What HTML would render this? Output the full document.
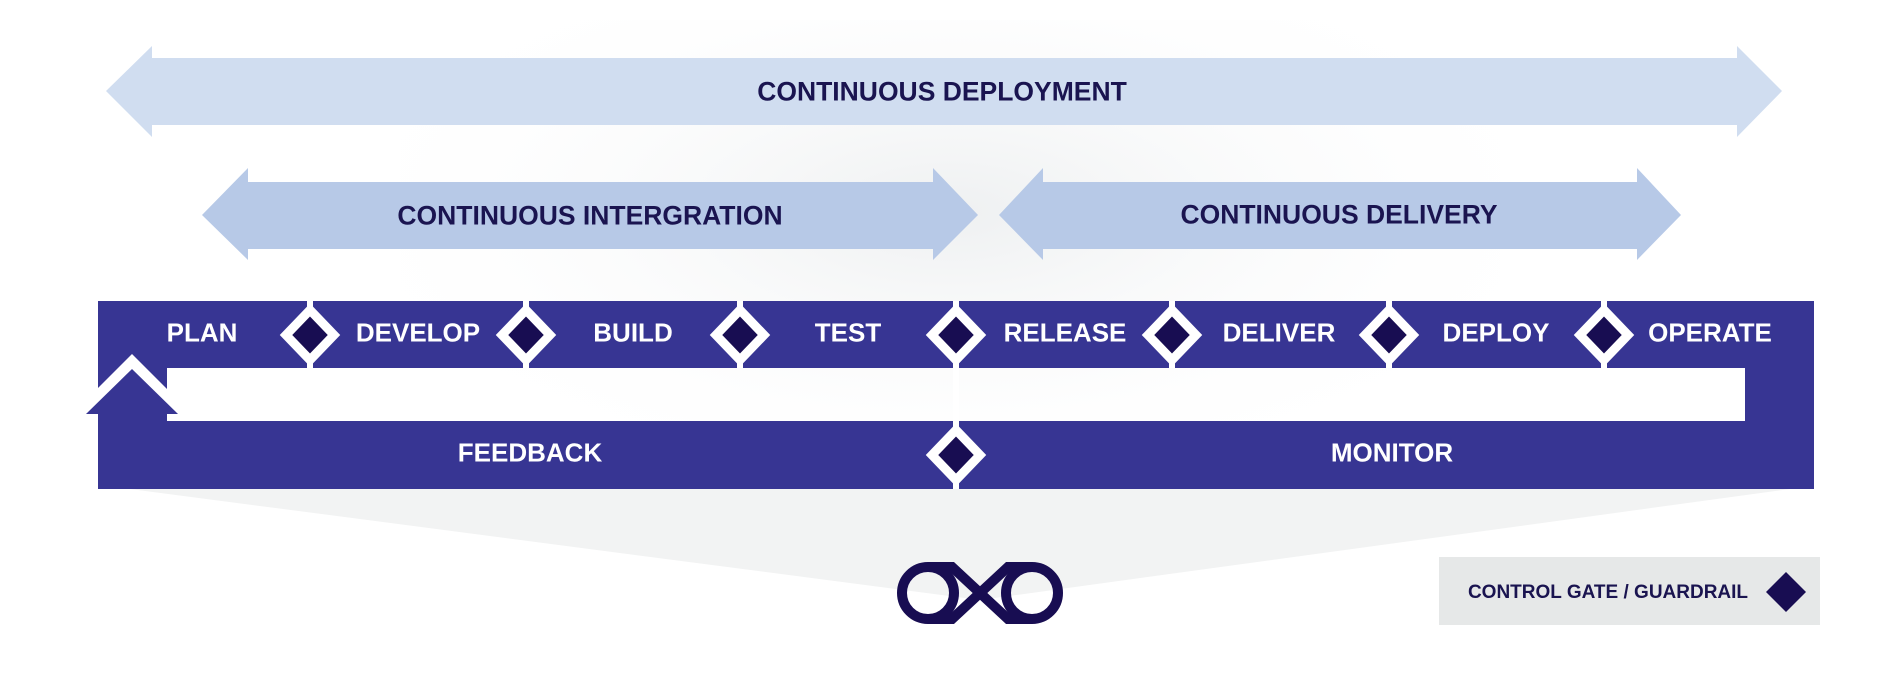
<!DOCTYPE html>
<html><head><meta charset="utf-8"><style>
body{margin:0;width:1887px;height:696px;background:#fff;overflow:hidden;position:relative;font-family:"Liberation Sans",sans-serif}
.t{position:absolute;font-weight:bold;white-space:nowrap;transform:translate(-50%,-50%)}
.w{color:#fff;font-size:26px}
.d{color:#1a1450;font-size:26.5px}
</style></head><body>
<svg width="1887" height="696" style="position:absolute;left:0;top:0">
<defs>
<radialGradient id="g" cx="0.5" cy="0.4" r="0.6"><stop offset="0" stop-color="#eef0f1"/><stop offset="1" stop-color="#fff" stop-opacity="0"/></radialGradient>
</defs>
<rect x="400" y="20" width="1100" height="480" fill="url(#g)"/>
<polygon points="130,489 1790,489 980,600" fill="#f2f3f3"/>
<polygon points="106,91 152,46 152,58 1737,58 1737,46 1782,91 1737,137 1737,125 152,125 152,137" fill="#d0ddf0"/>
<polygon points="202,215 248,168 248,182 933,182 933,168 978,215 933,260 933,249 248,249 248,260" fill="#b7c9e7"/>
<polygon points="999,215 1043,168 1043,182 1637,182 1637,168 1681,215 1637,260 1637,249 1043,249 1043,260" fill="#b7c9e7"/>
<rect x="98" y="301" width="1716" height="67" fill="#373593"/>
<rect x="98" y="421" width="1716" height="68" fill="#373593"/>
<rect x="1745" y="360" width="69" height="70" fill="#373593"/>
<rect x="98" y="301" width="69" height="188" fill="#373593"/>
<polygon points="72,414 132,354 192,414" fill="#fff"/>
<polygon points="86,414 132,369 178,414" fill="#373593"/>
<g fill="#fff">
<rect x="307" y="301" width="6" height="67"/><rect x="523" y="301" width="6" height="67"/>
<rect x="737" y="301" width="6" height="67"/><rect x="953" y="301" width="6" height="188"/>
<rect x="1169" y="301" width="6" height="67"/><rect x="1386" y="301" width="6" height="67"/>
<rect x="1601" y="301" width="6" height="67"/>
</g>
<g stroke="#fff" stroke-width="9" fill="#180d52">
<polygon points="310,310 334,335 310,360 286,335"/>
<polygon points="526,310 550,335 526,360 502,335"/>
<polygon points="740,310 764,335 740,360 716,335"/>
<polygon points="956,310 980,335 956,360 932,335"/>
<polygon points="1172,310 1196,335 1172,360 1148,335"/>
<polygon points="1389,310 1413,335 1389,360 1365,335"/>
<polygon points="1604,310 1628,335 1604,360 1580,335"/>
<polygon points="956,430 980,455 956,480 932,455"/>
</g>
<g fill="none" stroke="#180d52" stroke-width="10">
<circle cx="928" cy="593" r="26"/><circle cx="1032" cy="593" r="26"/>
<polyline points="928,567 952,567 1008,619 1032,619"/>
<polyline points="928,619 952,619 1008,567 1032,567"/>
</g>
<rect x="1439" y="557" width="381" height="68" fill="#e6e8e8"/>
<polygon points="1786,572 1806,592 1786,612 1766,592" fill="#180d52"/>
</svg>
<div class="t d" style="left:942px;top:92px">CONTINUOUS DEPLOYMENT</div>
<div class="t d" style="left:590px;top:216px">CONTINUOUS INTERGRATION</div>
<div class="t d" style="left:1339px;top:215px">CONTINUOUS DELIVERY</div>
<div class="t w" style="left:202px;top:333px">PLAN</div>
<div class="t w" style="left:418px;top:333px">DEVELOP</div>
<div class="t w" style="left:633px;top:333px">BUILD</div>
<div class="t w" style="left:848px;top:333px">TEST</div>
<div class="t w" style="left:1065px;top:333px">RELEASE</div>
<div class="t w" style="left:1279px;top:333px">DELIVER</div>
<div class="t w" style="left:1496px;top:333px">DEPLOY</div>
<div class="t w" style="left:1710px;top:333px">OPERATE</div>
<div class="t w" style="left:530px;top:453px">FEEDBACK</div>
<div class="t w" style="left:1392px;top:453px">MONITOR</div>
<div class="t" style="left:1608px;top:593px;font-size:19px;color:#1a1450">CONTROL GATE / GUARDRAIL</div>
</body></html>
